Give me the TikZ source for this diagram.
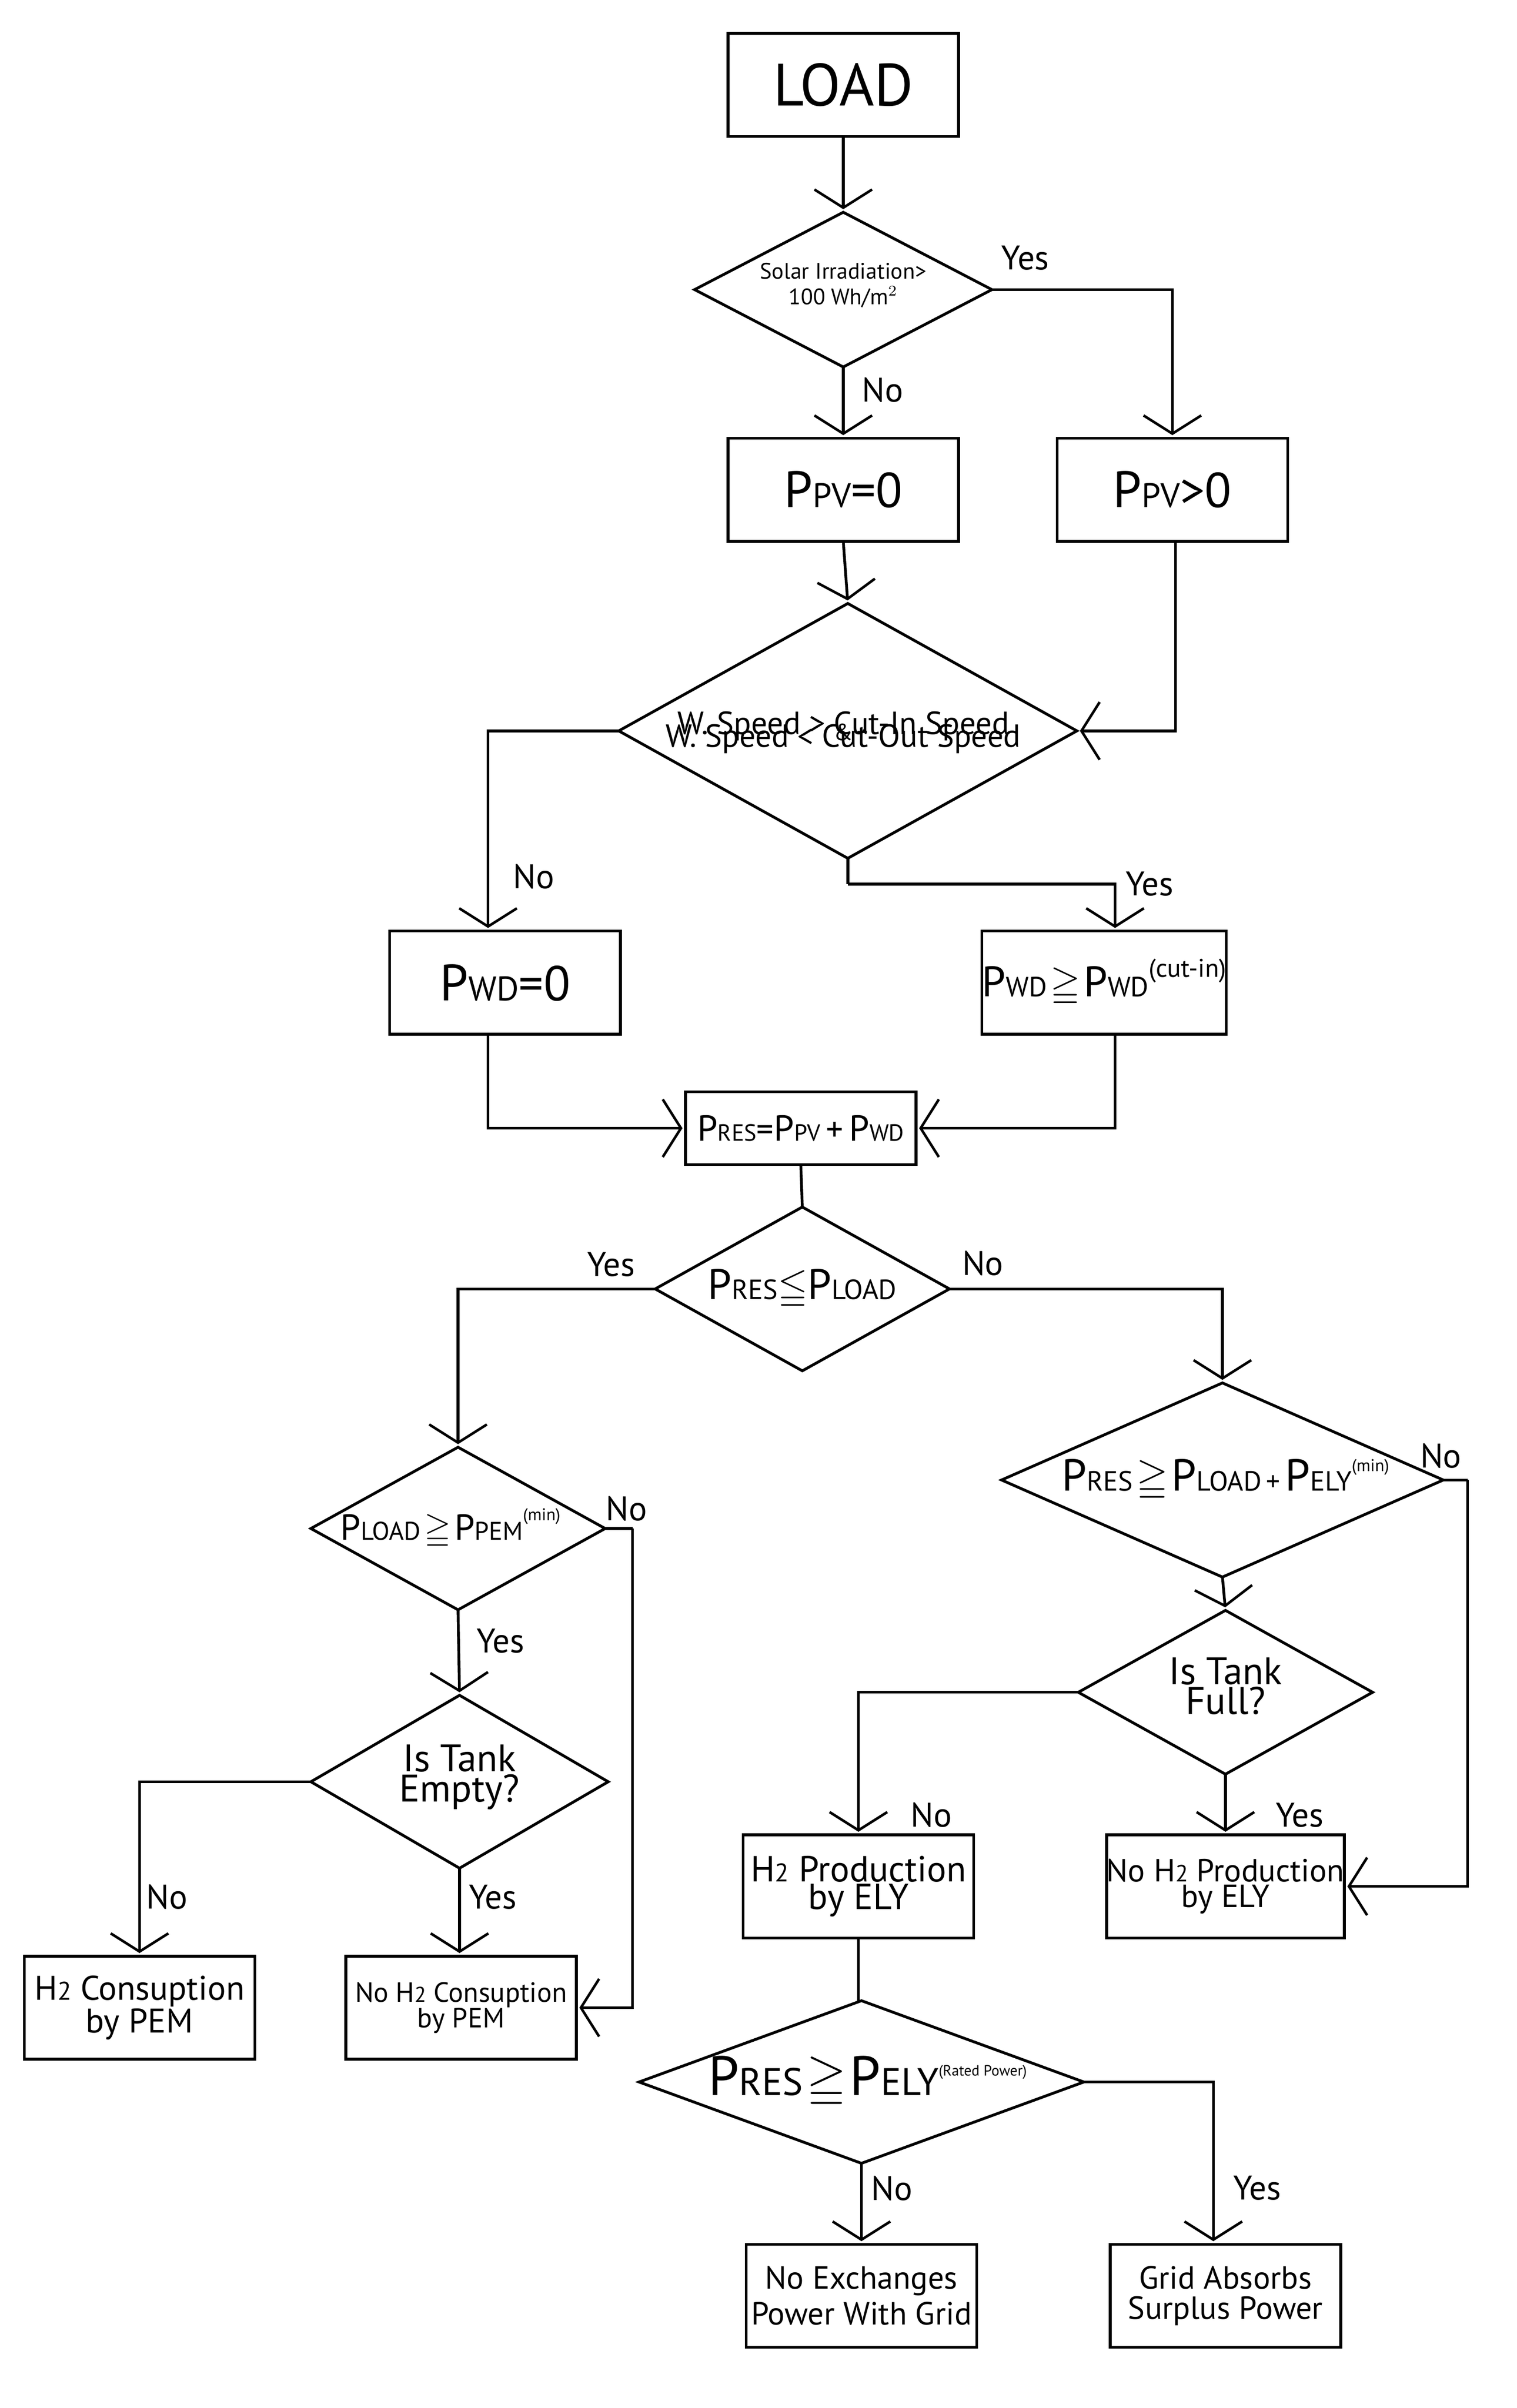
\documentclass[tikz,border=0pt]{standalone}
\usepackage{amssymb}
\usepackage{fontspec}
\setmainfont{PT Sans}
\usetikzlibrary{shapes.geometric,arrows.meta,calc}
\newcommand\fs[2]{{\fontsize{#1}{1.15\dimexpr #1pt\relax}\selectfont #2}}
\newcommand\PP[3]{\fs{#1}{P}\fs{#2}{#3}}
\newcommand\sups[2]{\raisebox{0.9em}{\fs{#1}{#2}}}
\newcommand\GE[1]{\fs{#1}{$\geqq$}}
\begin{document}
\begin{tikzpicture}[x=0.025cm,y=-0.025cm,
  every node/.style={inner sep=0pt,outer sep=0pt},
  box/.style={draw,line width=1.3pt,rectangle,minimum width=3.8cm,minimum height=1.7cm,align=center},
  dia/.style={draw,line width=1.3pt,diamond},
  txt/.style={align=center},
  lab/.style={font=\fontsize{16}{16}\selectfont},
  arr/.style={line width=1.3pt,-{Straight Barb[length=0.3cm,width=0.95cm,line width=1.2pt,sep=0.05cm]}},
  ln/.style={line width=1.3pt}]
\useasboundingbox (0,0) rectangle (1000,1588);
% boxes
\node[box] (load) at (556,56) {\fs{28}{LOAD}};
\node[box] (ppv0) at (556,323) {\PP{24}{16}{PV}\fs{23}{=0}};
\node[box] (ppv1) at (773,323) {\PP{24}{16}{PV}\fs{23}{>0}};
\node[box] (pwd0) at (333,648) {\PP{24}{16}{WD}\fs{23}{=0}};
\node[box] (pwd1) at (728,648) {\PP{20}{13}{WD}\,\GE{18}\,\PP{20}{13}{WD}\sups{12}{(cut-in)}};
\node[box,minimum height=1.2cm] (pres) at (528,744) {\PP{17}{11}{RES}\fs{16}{=}\PP{17}{11}{PV}\fs{16}{\,+\,}\PP{17}{11}{WD}};
\node[box] (c1) at (92,1324) {\fs{16}{H\fs{12}{2} Consuption}\\\fs{16}{by PEM}};
\node[box] (no2) at (304,1324) {\fs{13}{No H\fs{10}{2} Consuption}\\\fs{13}{by PEM}};
\node[box] (ely) at (566,1244) {\fs{17}{H\fs{12}{2} Production}\\\fs{17}{by ELY}};
\node[box] (noely) at (808,1244) {\fs{15}{No H\fs{11}{2} Production}\\\fs{15}{by ELY}};
\node[box] (noex) at (568,1514) {\fs{15}{No Exchanges}\\[2pt]\fs{15}{Power With Grid}};
\node[box] (grid) at (808,1514) {\fs{15}{Grid Absorbs}\\[2pt]\fs{15}{Surplus Power}};
% diamonds
\node[dia,minimum width=4.9cm,minimum height=2.55cm] (d1) at (556,191) {};
\node[dia,minimum width=7.55cm,minimum height=4.2cm] (d2) at (559,482) {};
\node[dia,minimum width=4.85cm,minimum height=2.7cm] (d3) at (529,850) {};
\node[dia,minimum width=4.85cm,minimum height=2.68cm] (d4) at (302,1008) {};
\node[dia,minimum width=4.9cm,minimum height=2.85cm] (d5) at (303,1175) {};
\node[dia,minimum width=7.28cm,minimum height=3.2cm] (d6) at (806,976) {};
\node[dia,minimum width=4.85cm,minimum height=2.7cm] (d7) at (808,1116) {};
\node[dia,minimum width=7.33cm,minimum height=2.68cm] (d8) at (568,1373) {};
% diamond texts
\node[txt] (t1) at (556,188) {\fs{10.5}{Solar Irradiation>}\\\fs{10.5}{100 Wh/m$^2$}};
\node[txt] (t2) at (556,483) {\fs{15}{W. Speed > Cut-In Speed}\\[-9pt]\fs{11}{\&}\\[-9pt]\fs{15}{W. Speed < Cut-Out Speed}};
\node[txt] (t3) at (529,850) {\PP{20}{13}{RES}\fs{18}{$\leqq$}\PP{20}{13}{LOAD}};
\node[txt] (t4) at (297,1008) {\PP{17}{12}{LOAD}\,\GE{16}\,\PP{17}{12}{PEM}\sups{8}{(min)}};
\node[txt] (t5) at (303,1172) {\fs{18}{Is Tank}\\\fs{18}{Empty?}};
\node[txt] (t6) at (808,976) {\PP{21}{13}{RES}\,\GE{19}\,\PP{21}{13}{LOAD}\fs{13}{\,+\,}\PP{21}{13}{ELY}\sups{8}{(min)}};
\node[txt] (t7) at (808,1112) {\fs{18}{Is Tank}\\\fs{18}{Full?}};
\node[txt] (t8) at (572,1373) {\PP{26}{18}{RES}\,\GE{24}\,\PP{26}{18}{ELY}\sups{7}{(Rated Power)}};
% connectors
\draw[arr] (load.south) -- (d1.north);
\draw[arr] (d1.south) -- (ppv0.north);
\draw[arr] (d1.east) -| (ppv1.north);
\draw[arr] (ppv0.south) -- (d2.north);
\draw[arr] ([xshift=0.05cm]ppv1.south) |- (d2.east);
\draw[arr] (d2.west) -| ([xshift=-0.28cm]pwd0.north);
\coordinate (k2) at ($(d2.south)+(0,17)$);
\draw[ln] (d2.south) -- (k2);
\draw[arr] (k2) -| ([xshift=0.18cm]pwd1.north);
\draw[arr] ([xshift=-0.28cm]pwd0.south) |- (pres.west);
\draw[arr] ([xshift=0.18cm]pwd1.south) |- (pres.east);
\draw[ln] (pres.south) -- (d3.north);
\draw[arr] (d3.west) -| (d4.north);
\draw[arr] (d3.east) -| (d6.north);
\coordinate (k4) at ($(d4.east)+(18,0)$);
\draw[ln] (d4.east) -- (k4);
\draw[arr] (k4) |- (no2.east);
\draw[arr] (d4.south) -- (d5.north);
\draw[arr] (d5.west) -| (c1.north);
\draw[arr] (d5.south) -- (no2.north -| d5.south);
\coordinate (k6) at ($(d6.east)+(16,0)$);
\draw[ln] (d6.east) -- (k6);
\draw[arr] (k6) |- (noely.east);
\draw[arr] (d6.south) -- (d7.north);
\draw[arr] (d7.west) -| (ely.north);
\draw[arr] (d7.south) -- (noely.north);
\draw[ln] (ely.south) -- (d8.north -| ely.south);
\draw[arr] (d8.south) -- (noex.north);
\draw[arr] (d8.east) -| ([xshift=-0.2cm]grid.north);
% labels
\node[lab] (l1) at (676,170) {Yes};
\node[lab] (l2) at (582,257) {No};
\node[lab] (l3) at (352,578) {No};
\node[lab] (l4) at (758,583) {Yes};
\node[lab] (l5) at (403,834) {Yes};
\node[lab] (l6) at (648,833) {No};
\node[lab] (l7) at (413,995) {No};
\node[lab] (l8) at (330,1082) {Yes};
\node[lab] (l9) at (110,1251) {No};
\node[lab] (l10) at (325,1251) {Yes};
\node[lab] (l11) at (950,960) {No};
\node[lab] (l12) at (614,1197) {No};
\node[lab] (l13) at (857,1197) {Yes};
\node[lab] (l14) at (588,1443) {No};
\node[lab] (l15) at (829,1443) {Yes};
\end{tikzpicture}
\end{document}
